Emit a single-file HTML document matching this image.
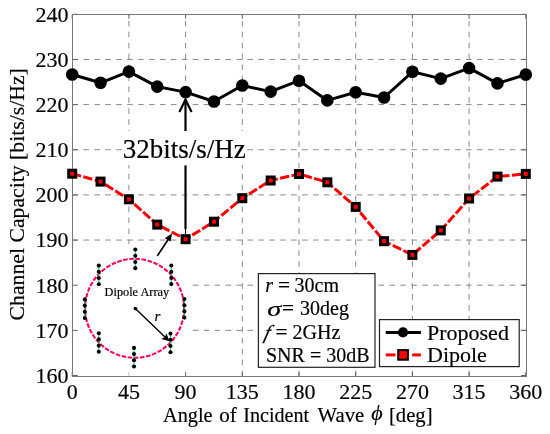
<!DOCTYPE html><html><head><meta charset="utf-8"><style>html,body{margin:0;padding:0;background:#fff;width:550px;height:434px;overflow:hidden}svg{display:block}text{font-family:"Liberation Serif","Times New Roman",serif;fill:#000;stroke:#000;stroke-width:0.18px}</style></head><body>
<svg width="550" height="434" viewBox="0 0 550 434">
<rect width="550" height="434" fill="#fff"/>
<line x1="128.90" y1="376.20" x2="128.90" y2="14.30" stroke="#8a8a8a" stroke-width="1" stroke-dasharray="5.6 5.33"/><line x1="185.60" y1="376.20" x2="185.60" y2="14.30" stroke="#8a8a8a" stroke-width="1" stroke-dasharray="5.6 5.33"/><line x1="242.30" y1="376.20" x2="242.30" y2="14.30" stroke="#8a8a8a" stroke-width="1" stroke-dasharray="5.6 5.33"/><line x1="299.00" y1="376.20" x2="299.00" y2="14.30" stroke="#8a8a8a" stroke-width="1" stroke-dasharray="5.6 5.33"/><line x1="355.70" y1="376.20" x2="355.70" y2="14.30" stroke="#8a8a8a" stroke-width="1" stroke-dasharray="5.6 5.33"/><line x1="412.40" y1="376.20" x2="412.40" y2="14.30" stroke="#8a8a8a" stroke-width="1" stroke-dasharray="5.6 5.33"/><line x1="469.10" y1="376.20" x2="469.10" y2="14.30" stroke="#8a8a8a" stroke-width="1" stroke-dasharray="5.6 5.33"/><line x1="72.5" y1="330.35" x2="526.20" y2="330.35" stroke="#8a8a8a" stroke-width="1" stroke-dasharray="5.6 5.33"/><line x1="72.5" y1="285.20" x2="526.20" y2="285.20" stroke="#8a8a8a" stroke-width="1" stroke-dasharray="5.6 5.33"/><line x1="72.5" y1="240.05" x2="526.20" y2="240.05" stroke="#8a8a8a" stroke-width="1" stroke-dasharray="5.6 5.33"/><line x1="72.5" y1="194.90" x2="526.20" y2="194.90" stroke="#8a8a8a" stroke-width="1" stroke-dasharray="5.6 5.33"/><line x1="72.5" y1="149.75" x2="526.20" y2="149.75" stroke="#8a8a8a" stroke-width="1" stroke-dasharray="5.6 5.33"/><line x1="72.5" y1="104.60" x2="526.20" y2="104.60" stroke="#8a8a8a" stroke-width="1" stroke-dasharray="5.6 5.33"/><line x1="72.5" y1="59.45" x2="526.20" y2="59.45" stroke="#8a8a8a" stroke-width="1" stroke-dasharray="5.6 5.33"/>
<rect x="72.5" y="244.2" width="117.5" height="131.5" fill="#fff"/>
<g stroke="#606060" stroke-width="1"><line x1="72.20" y1="376.5" x2="72.20" y2="372.2"/><line x1="72.20" y1="14.5" x2="72.20" y2="18.7"/><line x1="128.90" y1="376.5" x2="128.90" y2="372.2" stroke="#c8c8c8"/><line x1="128.90" y1="14.5" x2="128.90" y2="18.7"/><line x1="185.60" y1="376.5" x2="185.60" y2="372.2"/><line x1="185.60" y1="14.5" x2="185.60" y2="18.7"/><line x1="242.30" y1="376.5" x2="242.30" y2="372.2"/><line x1="242.30" y1="14.5" x2="242.30" y2="18.7"/><line x1="299.00" y1="376.5" x2="299.00" y2="372.2"/><line x1="299.00" y1="14.5" x2="299.00" y2="18.7"/><line x1="355.70" y1="376.5" x2="355.70" y2="372.2"/><line x1="355.70" y1="14.5" x2="355.70" y2="18.7"/><line x1="412.40" y1="376.5" x2="412.40" y2="372.2"/><line x1="412.40" y1="14.5" x2="412.40" y2="18.7"/><line x1="469.10" y1="376.5" x2="469.10" y2="372.2"/><line x1="469.10" y1="14.5" x2="469.10" y2="18.7"/><line x1="525.80" y1="376.5" x2="525.80" y2="372.2"/><line x1="525.80" y1="14.5" x2="525.80" y2="18.7"/><line x1="72.5" y1="375.50" x2="77.7" y2="375.50"/><line x1="526.5" y1="375.50" x2="521.2" y2="375.50"/><line x1="72.5" y1="330.35" x2="77.7" y2="330.35"/><line x1="526.5" y1="330.35" x2="521.2" y2="330.35"/><line x1="72.5" y1="285.20" x2="77.7" y2="285.20"/><line x1="526.5" y1="285.20" x2="521.2" y2="285.20"/><line x1="72.5" y1="240.05" x2="77.7" y2="240.05"/><line x1="526.5" y1="240.05" x2="521.2" y2="240.05"/><line x1="72.5" y1="194.90" x2="77.7" y2="194.90"/><line x1="526.5" y1="194.90" x2="521.2" y2="194.90"/><line x1="72.5" y1="149.75" x2="77.7" y2="149.75"/><line x1="526.5" y1="149.75" x2="521.2" y2="149.75"/><line x1="72.5" y1="104.60" x2="77.7" y2="104.60"/><line x1="526.5" y1="104.60" x2="521.2" y2="104.60"/><line x1="72.5" y1="59.45" x2="77.7" y2="59.45"/><line x1="526.5" y1="59.45" x2="521.2" y2="59.45"/><line x1="72.5" y1="14.30" x2="77.7" y2="14.30"/><line x1="526.5" y1="14.30" x2="521.2" y2="14.30"/></g>
<rect x="72.5" y="14.5" width="454" height="362" fill="none" stroke="#777" stroke-width="1"/>
<text x="68.6" y="382.80" font-size="22" text-anchor="end">160</text>
<text x="68.6" y="337.65" font-size="22" text-anchor="end">170</text>
<text x="68.6" y="292.50" font-size="22" text-anchor="end">180</text>
<text x="68.6" y="247.35" font-size="22" text-anchor="end">190</text>
<text x="68.6" y="202.20" font-size="22" text-anchor="end">200</text>
<text x="68.6" y="157.05" font-size="22" text-anchor="end">210</text>
<text x="68.6" y="111.90" font-size="22" text-anchor="end">220</text>
<text x="68.6" y="66.75" font-size="22" text-anchor="end">230</text>
<text x="68.6" y="21.60" font-size="22" text-anchor="end">240</text>
<text x="72.20" y="398.9" font-size="22" text-anchor="middle">0</text>
<text x="128.90" y="398.9" font-size="22" text-anchor="middle">45</text>
<text x="185.60" y="398.9" font-size="22" text-anchor="middle">90</text>
<text x="242.30" y="398.9" font-size="22" text-anchor="middle">135</text>
<text x="299.00" y="398.9" font-size="22" text-anchor="middle">180</text>
<text x="355.70" y="398.9" font-size="22" text-anchor="middle">225</text>
<text x="412.40" y="398.9" font-size="22" text-anchor="middle">270</text>
<text x="469.10" y="398.9" font-size="22" text-anchor="middle">315</text>
<text x="525.80" y="398.9" font-size="22" text-anchor="middle">360</text>
<text x="163" y="421.6" font-size="21" textLength="49.6" lengthAdjust="spacingAndGlyphs">Angle</text><text x="219.2" y="421.6" font-size="21">of</text><text x="243.2" y="421.6" font-size="21" textLength="66" lengthAdjust="spacingAndGlyphs">Incident</text><text x="317.6" y="421.6" font-size="21" textLength="46.6" lengthAdjust="spacingAndGlyphs">Wave</text><text x="371.3" y="420.1" font-size="22" font-style="italic">ϕ</text><text x="389" y="421.6" font-size="21" textLength="43.5" lengthAdjust="spacingAndGlyphs">[deg]</text>
<text transform="translate(24.2,320.4) rotate(-90)" font-size="22" textLength="252.2" lengthAdjust="spacingAndGlyphs">Channel Capacity [bits/s/Hz]</text>
<polyline points="72.20,74.50 100.55,82.80 128.90,71.60 157.25,86.60 185.60,92.10 213.95,101.50 242.30,85.50 270.65,91.60 299.00,80.70 327.35,100.40 355.70,92.30 384.05,97.50 412.40,71.80 440.75,78.60 469.10,68.10 497.45,83.40 525.80,74.60" fill="none" stroke="#000" stroke-width="3" stroke-linejoin="round"/>
<circle cx="72.20" cy="74.50" r="6.3" fill="#000"/>
<circle cx="100.55" cy="82.80" r="6.3" fill="#000"/>
<circle cx="128.90" cy="71.60" r="6.3" fill="#000"/>
<circle cx="157.25" cy="86.60" r="6.3" fill="#000"/>
<circle cx="185.60" cy="92.10" r="6.3" fill="#000"/>
<circle cx="213.95" cy="101.50" r="6.3" fill="#000"/>
<circle cx="242.30" cy="85.50" r="6.3" fill="#000"/>
<circle cx="270.65" cy="91.60" r="6.3" fill="#000"/>
<circle cx="299.00" cy="80.70" r="6.3" fill="#000"/>
<circle cx="327.35" cy="100.40" r="6.3" fill="#000"/>
<circle cx="355.70" cy="92.30" r="6.3" fill="#000"/>
<circle cx="384.05" cy="97.50" r="6.3" fill="#000"/>
<circle cx="412.40" cy="71.80" r="6.3" fill="#000"/>
<circle cx="440.75" cy="78.60" r="6.3" fill="#000"/>
<circle cx="469.10" cy="68.10" r="6.3" fill="#000"/>
<circle cx="497.45" cy="83.40" r="6.3" fill="#000"/>
<circle cx="525.80" cy="74.60" r="6.3" fill="#000"/>
<polyline points="72.20,173.70 100.55,181.60 128.90,199.30 157.25,224.60 185.60,239.20 213.95,221.70 242.30,198.20 270.65,180.50 299.00,174.00 327.35,182.30 355.70,206.90 384.05,241.20 412.40,254.90 440.75,230.40 469.10,198.50 497.45,176.60 525.80,173.90" fill="none" stroke="#f00" stroke-width="3" stroke-dasharray="9.3 2.42" stroke-dashoffset="0.12"/>
<rect x="68.70" y="170.20" width="7" height="7" fill="#f00" stroke="#000" stroke-width="3"/>
<rect x="97.05" y="178.10" width="7" height="7" fill="#f00" stroke="#000" stroke-width="3"/>
<rect x="125.40" y="195.80" width="7" height="7" fill="#f00" stroke="#000" stroke-width="3"/>
<rect x="153.75" y="221.10" width="7" height="7" fill="#f00" stroke="#000" stroke-width="3"/>
<rect x="182.10" y="235.70" width="7" height="7" fill="#f00" stroke="#000" stroke-width="3"/>
<rect x="210.45" y="218.20" width="7" height="7" fill="#f00" stroke="#000" stroke-width="3"/>
<rect x="238.80" y="194.70" width="7" height="7" fill="#f00" stroke="#000" stroke-width="3"/>
<rect x="267.15" y="177.00" width="7" height="7" fill="#f00" stroke="#000" stroke-width="3"/>
<rect x="295.50" y="170.50" width="7" height="7" fill="#f00" stroke="#000" stroke-width="3"/>
<rect x="323.85" y="178.80" width="7" height="7" fill="#f00" stroke="#000" stroke-width="3"/>
<rect x="352.20" y="203.40" width="7" height="7" fill="#f00" stroke="#000" stroke-width="3"/>
<rect x="380.55" y="237.70" width="7" height="7" fill="#f00" stroke="#000" stroke-width="3"/>
<rect x="408.90" y="251.40" width="7" height="7" fill="#f00" stroke="#000" stroke-width="3"/>
<rect x="437.25" y="226.90" width="7" height="7" fill="#f00" stroke="#000" stroke-width="3"/>
<rect x="465.60" y="195.00" width="7" height="7" fill="#f00" stroke="#000" stroke-width="3"/>
<rect x="493.95" y="173.10" width="7" height="7" fill="#f00" stroke="#000" stroke-width="3"/>
<rect x="522.30" y="170.40" width="7" height="7" fill="#f00" stroke="#000" stroke-width="3"/>
<g stroke="#000" stroke-width="2.2" fill="none"><line x1="185.5" y1="99.5" x2="185.5" y2="132"/><polyline points="179.4,112 185.5,99.6 191.6,112" stroke-linejoin="miter"/><line x1="185.5" y1="165.5" x2="185.5" y2="229"/></g>
<line x1="185.5" y1="229" x2="185.5" y2="234" stroke="#000" stroke-width="1"/>
<rect x="122" y="131" width="125" height="34" fill="#fff"/>
<text x="122.8" y="158" font-size="27">32bits/s/Hz</text>
<circle cx="134.6" cy="308.3" r="49.5" fill="none" stroke="#ff0066" stroke-width="2.1" stroke-dasharray="4.6 1.55"/>
<line x1="184.40" y1="299.10" x2="184.40" y2="317.50" stroke="#00e050" stroke-width="1.1"/><circle cx="184.40" cy="299.00" r="2.05" fill="#000"/><circle cx="184.40" cy="305.20" r="2.05" fill="#000"/><circle cx="184.40" cy="311.40" r="2.05" fill="#000"/><circle cx="184.40" cy="317.60" r="2.05" fill="#000"/><line x1="171.30" y1="265.60" x2="171.30" y2="284.00" stroke="#00e050" stroke-width="1.1"/><circle cx="171.30" cy="265.50" r="2.05" fill="#000"/><circle cx="171.30" cy="271.70" r="2.05" fill="#000"/><circle cx="171.30" cy="277.90" r="2.05" fill="#000"/><circle cx="171.30" cy="284.10" r="2.05" fill="#000"/><line x1="135.30" y1="249.65" x2="135.30" y2="268.05" stroke="#00e050" stroke-width="1.1"/><circle cx="135.30" cy="249.55" r="2.05" fill="#000"/><circle cx="135.30" cy="255.75" r="2.05" fill="#000"/><circle cx="135.30" cy="261.95" r="2.05" fill="#000"/><circle cx="135.30" cy="268.15" r="2.05" fill="#000"/><line x1="98.80" y1="265.70" x2="98.80" y2="284.10" stroke="#00e050" stroke-width="1.1"/><circle cx="98.80" cy="265.60" r="2.05" fill="#000"/><circle cx="98.80" cy="271.80" r="2.05" fill="#000"/><circle cx="98.80" cy="278.00" r="2.05" fill="#000"/><circle cx="98.80" cy="284.20" r="2.05" fill="#000"/><line x1="84.80" y1="299.50" x2="84.80" y2="317.90" stroke="#00e050" stroke-width="1.1"/><circle cx="84.80" cy="299.40" r="2.05" fill="#000"/><circle cx="84.80" cy="305.60" r="2.05" fill="#000"/><circle cx="84.80" cy="311.80" r="2.05" fill="#000"/><circle cx="84.80" cy="318.00" r="2.05" fill="#000"/><line x1="98.80" y1="333.30" x2="98.80" y2="351.70" stroke="#00e050" stroke-width="1.1"/><circle cx="98.80" cy="333.20" r="2.05" fill="#000"/><circle cx="98.80" cy="339.40" r="2.05" fill="#000"/><circle cx="98.80" cy="345.60" r="2.05" fill="#000"/><circle cx="98.80" cy="351.80" r="2.05" fill="#000"/><line x1="134.00" y1="348.00" x2="134.00" y2="366.40" stroke="#00e050" stroke-width="1.1"/><circle cx="134.00" cy="347.90" r="2.05" fill="#000"/><circle cx="134.00" cy="354.10" r="2.05" fill="#000"/><circle cx="134.00" cy="360.30" r="2.05" fill="#000"/><circle cx="134.00" cy="366.50" r="2.05" fill="#000"/><line x1="170.50" y1="333.70" x2="170.50" y2="352.10" stroke="#00e050" stroke-width="1.1"/><circle cx="170.50" cy="333.60" r="2.05" fill="#000"/><circle cx="170.50" cy="339.80" r="2.05" fill="#000"/><circle cx="170.50" cy="346.00" r="2.05" fill="#000"/><circle cx="170.50" cy="352.20" r="2.05" fill="#000"/>
<circle cx="135.4" cy="308.6" r="1.8" fill="#000"/>
<line x1="135.3" y1="308.6" x2="165" y2="337" stroke="#000" stroke-width="1.4"/>
<polygon points="169.4,341.2 161.3,338.9 164.9,337.0 166.5,333.2" fill="#000"/>
<text x="154.5" y="320.7" font-size="15" font-style="italic">r</text>
<text x="104.6" y="295.7" font-size="12.2" textLength="64.5" lengthAdjust="spacingAndGlyphs">Dipole Array</text>
<line x1="157.3" y1="255.9" x2="169.5" y2="237.5" stroke="#000" stroke-width="1.7"/>
<polygon points="172,233.6 164.8,238.3 170.6,241.6" fill="#000"/>
<rect x="258.4" y="273.6" width="116.6" height="93.7" fill="#fff" stroke="#222" stroke-width="1.2"/>
<g font-size="20">
<text x="265.2" y="292.3" font-style="italic">r</text><text x="277.9" y="292.3" textLength="12" lengthAdjust="spacingAndGlyphs">=</text><text x="294.6" y="292.3">30cm</text>
<text x="267.2" y="315.6" font-style="italic" textLength="14" lengthAdjust="spacingAndGlyphs">σ</text><text x="282" y="315.4" textLength="12" lengthAdjust="spacingAndGlyphs">=</text><text x="300" y="315.4">30deg</text>
<text transform="translate(263.3,338.6) skewX(-14)" font-style="italic">f</text><text x="275.6" y="338.6" textLength="12" lengthAdjust="spacingAndGlyphs">=</text><text x="292.6" y="338.6">2GHz</text>
<text x="266" y="362.4">SNR = 30dB</text>
</g>
<rect x="379.5" y="319.6" width="139.7" height="47" fill="#fff" stroke="#222" stroke-width="1.2"/>
<line x1="385.7" y1="332.5" x2="420.9" y2="332.5" stroke="#000" stroke-width="3"/><circle cx="403" cy="332.4" r="5.1" fill="#000"/>
<line x1="385.7" y1="354.9" x2="395.5" y2="354.9" stroke="#f00" stroke-width="3"/><line x1="412.2" y1="354.9" x2="420.9" y2="354.9" stroke="#f00" stroke-width="3"/>
<rect x="398.2" y="350.1" width="9.7" height="9.6" fill="#f00" stroke="#000" stroke-width="2"/>
<text x="427" y="339.8" font-size="22">Proposed</text>
<text x="427" y="362.2" font-size="22">Dipole</text>
</svg></body></html>
